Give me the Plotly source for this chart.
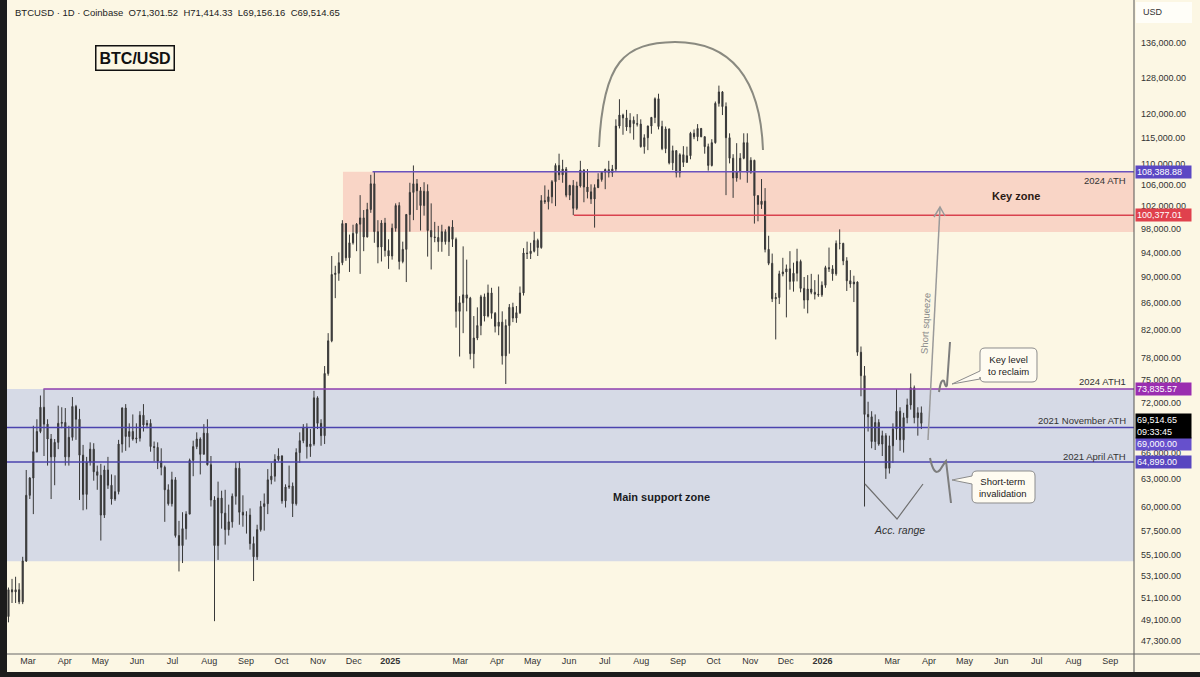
import math
import pandas as pd
import plotly.graph_objects as go

# ---------------- DATA (3-day candles, thousands of USD) ----------------
start_date = "2024-02-12"
period_days = 3

opens = [49.4,51.8,51.6,51.8,50.7,54.5,61.2,63.1,66.1,68.5,
         71.5,69.4,67.6,65.5,67.2,69.5,69.6,65.5,67.8,71.6,
         70.0,65.7,61.3,64.9,66.4,63.8,63.4,59.1,64.0,62.3,
         60.8,61.6,67.0,71.4,67.9,68.5,67.6,67.7,70.5,69.3,
         69.5,66.7,66.6,65.0,64.3,61.8,60.3,62.9,57.0,56.0,
         57.7,59.2,65.1,66.7,67.6,65.8,68.3,64.6,60.7,56.0,
         60.9,59.3,57.6,58.4,61.1,64.2,59.4,59.1,59.1,56.2,
         54.9,57.6,60.0,60.3,62.9,63.3,65.2,65.6,60.6,62.1,
         62.2,60.3,66.0,67.4,69.0,66.7,67.0,72.7,69.5,68.0,
         75.9,80.4,90.4,90.6,92.3,98.9,93.1,95.6,97.2,98.8,
         99.9,96.6,101.4,106.1,97.5,94.9,99.0,94.3,93.4,98.1,
         102.1,92.5,94.5,100.5,104.5,106.1,104.8,102.1,104.7,97.7,
         96.6,96.5,95.8,97.5,95.8,98.3,96.2,84.7,86.0,87.2,
         86.7,78.6,80.8,82.6,86.9,84.0,87.5,84.4,82.5,83.1,
         78.3,82.6,85.3,83.7,84.5,87.5,93.9,93.8,94.2,96.0,
         94.8,103.0,102.8,103.7,106.5,109.6,107.8,108.9,104.0,105.8,
         101.6,105.7,108.7,105.5,104.6,103.3,105.4,106.9,108.3,108.8,
         108.2,108.9,117.5,119.8,119.2,117.3,118.7,118.0,117.9,113.3,
         115.1,117.5,119.3,123.3,117.4,112.9,116.9,110.1,112.5,108.2,
         111.7,110.2,111.5,116.0,115.3,117.0,115.3,113.3,109.6,114.1,
         122.3,124.8,121.6,115.1,111.0,107.2,108.4,111.0,114.1,108.3,
         110.6,103.9,102.3,102.9,94.5,92.2,86.6,86.8,90.5,90.8,
         91.3,89.3,90.6,92.5,88.2,86.4,88.1,87.6,87.3,87.2,
         88.7,91.5,91.3,90.5,95.5,95.5,92.6,89.4,88.9,89.2,
         78.8,75.6,70.6,70.3,67.3,69.6,67.0,68.0,64.2,66.8,
         68.8,71.0,67.5,70.2,71.8,74.0,70.2,70.8]

highs = [52.0,52.8,53.0,52.4,54.9,64.0,63.2,69.2,70.0,73.0,
         73.8,70.0,68.2,67.6,71.7,71.5,71.4,69.2,72.8,71.8,
         71.3,66.9,65.5,67.2,67.1,64.5,64.7,64.5,65.5,63.5,
         63.4,67.5,71.5,71.9,69.5,70.6,69.5,71.0,71.9,69.9,
         70.0,67.3,67.2,66.5,64.5,62.4,63.8,63.2,58.5,59.4,
         59.5,65.3,67.4,68.4,67.8,69.4,70.0,65.6,61.1,62.7,
         61.7,61.8,60.2,61.4,64.9,65.0,61.2,59.5,59.8,56.9,
         58.1,60.6,61.4,64.1,64.8,65.8,66.5,65.7,62.4,64.5,
         62.6,66.5,68.4,69.4,69.5,68.8,73.6,72.9,70.0,76.9,
         81.5,93.4,91.8,94.0,99.5,99.0,97.0,98.7,99.0,104.0,
         101.3,102.6,107.8,108.4,99.5,99.5,99.9,96.2,98.9,102.5,
         102.7,95.8,100.6,106.3,109.6,107.0,105.5,106.4,106.0,102.5,
         99.2,98.5,98.7,97.9,98.5,99.5,96.5,87.0,95.0,92.8,
         86.9,84.0,85.3,87.2,87.4,88.8,88.3,84.6,88.5,84.7,
         83.5,85.8,86.0,85.5,88.5,94.7,95.8,95.6,97.5,96.3,
         104.0,105.8,105.0,106.8,110.0,111.9,110.7,109.3,105.9,106.8,
         106.5,110.5,108.9,108.9,106.0,106.0,108.1,108.5,109.0,110.5,
         109.7,118.9,123.2,120.1,120.9,120.2,119.5,120.0,118.9,115.8,
         117.6,119.4,123.6,124.4,118.6,117.4,117.0,113.5,112.6,112.0,
         113.4,113.3,116.3,116.8,117.9,117.1,115.4,113.9,114.8,122.7,
         126.2,125.0,122.5,116.0,111.8,114.0,112.0,116.0,116.0,111.2,
         110.7,104.0,107.0,105.3,96.8,93.8,87.5,91.0,93.1,92.0,
         94.2,92.3,94.6,92.8,90.0,90.3,90.5,89.5,90.4,89.3,
         91.8,94.8,91.9,96.0,97.9,95.6,93.2,91.1,90.2,89.3,
         79.6,76.9,72.2,71.0,70.6,70.0,68.6,68.3,68.0,69.5,
         73.8,71.5,70.8,72.6,75.9,74.3,71.5,71.6]

lows = [48.9,50.6,50.6,50.5,50.5,54.4,60.8,59.2,66.0,68.3,
        65.6,64.5,60.8,62.3,66.4,68.9,64.5,64.5,67.4,67.5,
        60.7,59.6,59.7,64.5,62.8,61.8,56.5,58.8,61.9,60.2,
        60.6,61.3,66.0,66.2,66.6,67.4,67.1,67.3,68.5,68.9,
        66.1,65.0,64.1,63.4,58.4,60.1,60.0,56.8,53.5,54.3,
        56.6,59.2,63.3,66.4,63.5,65.8,64.5,60.0,49.0,54.6,
        57.7,56.1,57.0,57.8,60.2,58.1,57.9,57.2,55.6,52.6,
        54.6,57.4,57.5,59.2,62.4,62.7,65.0,60.3,59.9,61.9,
        58.9,60.1,64.8,67.1,65.3,65.5,66.8,68.8,66.8,67.0,
        75.6,80.2,86.7,89.4,91.9,92.6,90.8,95.3,94.2,90.5,
        94.2,96.5,100.8,95.6,92.2,92.5,93.3,91.3,92.8,97.5,
        91.2,92.2,89.2,97.5,99.5,101.3,97.7,100.3,93.3,91.2,
        95.7,94.1,94.1,95.3,93.4,94.9,82.3,78.2,81.5,84.7,
        77.8,76.6,80.5,81.2,83.2,83.8,83.6,81.6,81.2,77.1,
        74.5,78.6,83.1,83.0,84.3,87.1,92.9,92.9,94.0,93.4,
        94.6,102.4,101.4,102.5,102.0,106.8,106.3,103.6,103.1,100.4,
        101.3,105.4,102.7,103.4,102.4,98.2,105.3,106.5,105.1,107.3,
        107.4,108.4,117.0,115.7,116.5,116.0,114.7,117.4,113.1,111.9,
        112.6,115.9,118.1,116.8,112.6,112.0,109.8,108.7,107.3,107.3,
        109.3,110.1,110.8,114.8,114.4,115.2,111.9,108.6,109.4,113.9,
        121.6,119.8,104.0,110.0,103.5,106.5,106.9,110.8,106.3,108.0,
        98.9,99.3,101.5,94.0,91.9,86.1,80.6,85.8,90.1,83.8,
        88.0,87.7,89.3,87.6,85.1,84.4,87.3,86.5,86.9,86.9,
        88.3,90.8,89.4,90.2,94.5,91.9,87.8,88.3,86.1,78.3,
        72.9,60.0,68.5,66.5,66.3,66.8,65.6,63.0,63.6,64.8,
        67.5,66.2,66.0,69.5,71.2,69.5,68.0,68.8]

closes = [51.8,51.6,51.8,50.7,54.5,61.2,63.1,66.1,68.5,71.5,
          69.4,67.6,65.5,67.2,69.5,69.6,65.5,67.8,71.6,70.0,
          65.7,61.3,64.9,66.4,63.8,63.4,59.1,64.0,62.3,60.8,
          61.6,67.0,71.4,67.9,68.5,67.6,67.7,70.5,69.3,69.5,
          66.7,66.6,65.0,64.3,61.8,60.3,62.9,57.0,56.0,57.7,
          59.2,65.1,66.7,67.6,65.8,68.3,64.6,60.7,56.0,60.9,
          59.3,57.6,58.4,61.1,64.2,59.4,59.1,59.1,56.2,54.9,
          57.6,60.0,60.3,62.9,63.3,65.2,65.6,60.6,62.1,62.2,
          60.3,66.0,67.4,69.0,66.7,67.0,72.7,69.5,68.0,75.9,
          80.4,90.4,90.6,92.3,98.9,93.1,95.6,97.2,98.8,99.9,
          96.6,101.4,106.1,97.5,94.9,99.0,94.3,93.4,98.1,102.1,
          92.5,94.5,100.5,104.5,106.1,104.8,102.1,104.7,97.7,96.6,
          96.5,95.8,97.5,95.8,98.3,96.2,84.7,86.0,87.2,86.7,
          78.6,80.8,82.6,86.9,84.0,87.5,84.4,82.5,83.1,78.3,
          82.6,85.3,83.7,84.5,87.5,93.9,93.8,94.2,96.0,94.8,
          103.0,102.8,103.7,106.5,109.6,107.8,108.9,104.0,105.8,101.6,
          105.7,108.7,105.5,104.6,103.3,105.4,106.9,108.3,108.8,108.2,
          108.9,117.5,119.8,119.2,117.3,118.7,118.0,117.9,113.3,115.1,
          117.5,119.3,123.3,117.4,112.9,116.9,110.1,112.5,108.2,111.7,
          110.2,111.5,116.0,115.3,117.0,115.3,113.3,109.6,114.1,122.3,
          124.8,121.6,115.1,111.0,107.2,108.4,111.0,114.1,108.3,110.6,
          103.9,102.3,102.9,94.5,92.2,86.6,86.8,90.5,90.8,91.3,
          89.3,90.6,92.5,88.2,86.4,88.1,87.6,87.3,87.2,88.7,
          91.5,91.3,90.5,95.5,95.5,92.6,89.4,88.9,89.2,78.8,
          75.6,70.6,70.3,67.3,69.6,67.0,68.0,64.2,66.8,68.8,
          71.0,67.5,70.2,71.8,74.0,70.2,70.8,69.51]

# key levels (USD) and where they start
level_2024_ath = 108388.88
level_2024_ath_start = "2024-12-17"
level_red = 100377.01
level_red_start = "2025-06-05"
level_2024_ath1 = 73835.57
level_2024_ath1_start = "2024-03-14"
level_2021_nov = 69000.00
level_2021_apr = 64899.00
key_zone = (97460, 108388.88)
key_zone_start = "2024-11-22"
support_zone = (54470, 73835.57)
last_price = 69514.65

x_tick_dates = ["2024-03-01","2024-04-01","2024-05-01","2024-06-01","2024-07-01","2024-08-01",
                "2024-09-01","2024-10-01","2024-11-01","2024-12-01","2025-01-01","2025-03-01",
                "2025-04-01","2025-05-01","2025-06-01","2025-07-01","2025-08-01","2025-09-01",
                "2025-10-01","2025-11-01","2025-12-01","2026-01-01","2026-03-01","2026-04-01",
                "2026-05-01","2026-06-01","2026-07-01","2026-08-01","2026-09-01"]
x_tick_text = ["Mar","Apr","May","Jun","Jul","Aug","Sep","Oct","Nov","Dec","<b>2025</b>","Mar",
               "Apr","May","Jun","Jul","Aug","Sep","Oct","Nov","Dec","<b>2026</b>","Mar","Apr",
               "May","Jun","Jul","Aug","Sep"]
y_tick_vals = [136000,128000,120000,115000,110000,106000,102000,98000,94000,90000,86000,82000,
               78000,75000,72000,66000,63000,60000,57500,55100,53100,51100,49100,47300]

# ---------------- LAYOUT GEOMETRY ----------------
W, H = 1200, 677
PL, PR, PT, PB = 7, 1134, 0, 654
Y_LO, Y_HI = 46240, 146800
X_LO, X_HI = "2024-02-12 06:00", "2026-09-21 02:00"
FONT = "Liberation Sans, Arial, sans-serif"
BG = "#FCF7E4"
CANDLE = "#383838"

def px(x):
    return (x - PL) / (PR - PL)

def py(y):
    return 1 - (y - PT) / (PB - PT)

def pp(price):
    lo, hi = math.log10(Y_LO), math.log10(Y_HI)
    return (math.log10(price) - lo) / (hi - lo)

def path(cmds):
    out = []
    for c in cmds:
        op, vals = c[0], c[1:]
        pts = []
        for i in range(0, len(vals), 2):
            pts.append(f"{px(vals[i]):.5f},{py(vals[i+1]):.5f}")
        out.append(op + " " + " ".join(pts))
    return " ".join(out)

k = 1000.0
dates = [pd.Timestamp(start_date) + pd.Timedelta(hours=24 * period_days * i + 36) for i in range(len(closes))]

fig = go.Figure()
fig.add_trace(go.Candlestick(
    x=dates,
    open=[v * k for v in opens], high=[v * k for v in highs],
    low=[v * k for v in lows], close=[v * k for v in closes],
    increasing=dict(line=dict(color=CANDLE, width=1), fillcolor=CANDLE),
    decreasing=dict(line=dict(color=CANDLE, width=1), fillcolor=CANDLE),
    whiskerwidth=0, showlegend=False, hoverinfo="skip",
))

shapes = []
# zones
shapes.append(dict(type="rect", xref="paper", yref="paper", x0=0, x1=1,
                   y0=pp(support_zone[0]), y1=pp(support_zone[1]),
                   fillcolor="#D6DAE6", line=dict(width=0), layer="below"))
shapes.append(dict(type="rect", xref="x", yref="paper", x0=key_zone_start, x1=X_HI,
                   y0=pp(key_zone[0]), y1=pp(key_zone[1]),
                   fillcolor="#F9D5C6", line=dict(width=0), layer="below"))
# level lines
def hline(level, x0, color, ref="x"):
    return dict(type="line", xref=ref, yref="paper", x0=x0, x1=(X_HI if ref == "x" else 1),
                y0=pp(level), y1=pp(level), line=dict(color=color, width=1.5), layer="above")
shapes.append(hline(level_2024_ath, level_2024_ath_start, "#6A52BE"))
shapes.append(hline(level_red, level_red_start, "#D9424E"))
shapes.append(hline(level_2024_ath1, level_2024_ath1_start, "#8F3FAF"))
shapes.append(hline(level_2021_nov, 0, "#4B43AE", ref="paper"))
shapes.append(hline(level_2021_apr, 0, "#4B43AE", ref="paper"))

# hand drawings
gray = "#7d7d7d"
shapes.append(dict(type="path", xref="paper", yref="paper", layer="above",
                   path=path([("M", 599, 147), ("C", 603, 60, 625, 43, 675, 42), ("C", 725, 42, 760, 70, 763, 150)]),
                   line=dict(color="#8a8a80", width=2)))
shapes.append(dict(type="path", xref="paper", yref="paper", layer="above",
                   path=path([("M", 865, 484), ("L", 897, 519), ("L", 923, 484)]),
                   line=dict(color="#6f6f6f", width=1.2)))
shapes.append(dict(type="path", xref="paper", yref="paper", layer="above",
                   path=path([("M", 928, 440), ("L", 940, 208)]),
                   line=dict(color="#9a9a9a", width=1.5)))
shapes.append(dict(type="path", xref="paper", yref="paper", layer="above",
                   path=path([("M", 934, 217), ("L", 940, 207), ("L", 945, 216)]),
                   line=dict(color="#9a9a9a", width=1.5)))
shapes.append(dict(type="path", xref="paper", yref="paper", layer="above",
                   path=path([("M", 939, 392), ("Q", 941, 378, 944, 381), ("Q", 946, 389, 947, 385), ("L", 950, 342)]),
                   line=dict(color=gray, width=2)))
shapes.append(dict(type="path", xref="paper", yref="paper", layer="above",
                   path=path([("M", 930, 458), ("Q", 934, 477, 940, 470), ("Q", 945, 462, 946, 461), ("L", 951, 503)]),
                   line=dict(color=gray, width=2)))

def callout(x0, y0, x1, y1, tip, a0, a1, r=5):
    return path([("M", x0 + r, y0), ("L", x1 - r, y0), ("Q", x1, y0, x1, y0 + r),
                 ("L", x1, y1 - r), ("Q", x1, y1, x1 - r, y1), ("L", x0 + r, y1),
                 ("Q", x0, y1, x0, y1 - r), ("L", x0, a1), ("L", tip[0], tip[1]),
                 ("L", x0, a0), ("L", x0, y0 + r), ("Q", x0, y0, x0 + r, y0)]) + " Z"

shapes.append(dict(type="path", xref="paper", yref="paper", layer="above",
                   path=callout(980, 348, 1037, 382, (952, 384), 371, 379),
                   fillcolor="#FEFBF1", line=dict(color="#8c8c8c", width=1)))
shapes.append(dict(type="path", xref="paper", yref="paper", layer="above",
                   path=callout(972, 471, 1035, 503, (952, 480), 476, 484),
                   fillcolor="#FEFBF1", line=dict(color="#8c8c8c", width=1)))

# frame pieces
shapes.append(dict(type="rect", xref="paper", yref="paper", x0=px(0), x1=px(7), y0=py(677), y1=py(0),
                   fillcolor="#1c1c1c", line=dict(width=0), layer="above"))
shapes.append(dict(type="rect", xref="paper", yref="paper", x0=px(0), x1=px(1200), y0=py(677), y1=py(672),
                   fillcolor="#1c1c1c", line=dict(width=0), layer="above"))
shapes.append(dict(type="line", xref="paper", yref="paper", x0=px(1134), x1=px(1134), y0=py(672), y1=py(0),
                   line=dict(color="#555555", width=1), layer="above"))
shapes.append(dict(type="line", xref="paper", yref="paper", x0=px(7), x1=px(1200), y0=py(654), y1=py(654),
                   line=dict(color="#666666", width=1), layer="above"))
shapes.append(dict(type="rect", xref="paper", yref="paper", x0=px(1136), x1=px(1192), y0=py(23), y1=py(2),
                   fillcolor="#FFFEF8", line=dict(width=0), layer="above"))

ann = []
def text(x, y, t, size=9.5, color="#222", xanchor="center", **kw):
    ann.append(dict(xref="paper", yref="paper", x=px(x), y=py(y), text=t, showarrow=False,
                    xanchor=xanchor, yanchor="middle", font=dict(family=FONT, size=size, color=color), **kw))

nb = "\u00a0\u00a0"
text(13, 12, "BTCUSD · 1D · Coinbase" + nb + "O71,301.52" + nb + "H71,414.33" + nb + "L69,156.16" + nb + "C69,514.65",
     size=9.5, color="#222", xanchor="left")
text(135, 58.5, "<b>BTC/USD</b>", size=16, color="#111", bordercolor="#111", borderwidth=1.5, borderpad=3,
     bgcolor=BG)
text(1153, 12, "USD", size=9, color="#333")
text(1016, 196, "<b>Key zone</b>", size=11, color="#2a1a14")
text(661, 497, "<b>Main support zone</b>", size=11, color="#1a1a22")
text(899, 530, "<i>Acc. range</i>", size=10.5, color="#333")
text(1008, 365, "Key level<br>to reclaim", size=9.5, color="#222")
text(1003, 487, "Short-term<br>invalidation", size=9.5, color="#222")
text(925, 324, "Short squeeze", size=9.5, color="#8a8a8a", textangle=-87)

def line_label(level, t, shift):
    ann.append(dict(xref="paper", yref="paper", x=px(1128), y=pp(level), text=t, showarrow=False,
                    xanchor="right", yanchor="middle", yshift=shift,
                    font=dict(family=FONT, size=9.5, color="#333")))
line_label(level_2024_ath, "2024 ATH", -9)
line_label(level_2024_ath1, "2024 ATH1", 8)
line_label(level_2021_nov, "2021 November ATH", 7)
line_label(level_2021_apr, "2021 April ATH", 6)

def price_tag(level, t, color, shift=0):
    ann.append(dict(xref="paper", yref="paper", x=1, y=pp(level), text=t, showarrow=False,
                    xanchor="left", yanchor="middle", xshift=1, yshift=shift, bgcolor=color,
                    borderpad=1, width=53, align="left",
                    font=dict(family=FONT, size=9, color="#ffffff")))
price_tag(level_2024_ath, "108,388.88", "#5B47C4")
price_tag(level_red, "100,377.01", "#E0414D")
price_tag(level_2024_ath1, "73,835.57", "#9A2DB0")
price_tag(level_2021_nov, "69,000.00", "#6650CC", shift=-17)
price_tag(level_2021_apr, "64,899.00", "#5846C0")
ann.append(dict(xref="paper", yref="paper", x=1, y=py(426), text="69,514.65<br>09:33:45", showarrow=False,
                xanchor="left", yanchor="middle", xshift=1, bgcolor="#000000", borderpad=1, width=53,
                align="left", font=dict(family=FONT, size=9, color="#ffffff")))

fig.update_layout(
    width=W, height=H,
    margin=dict(l=PL, r=W - PR, t=PT, b=H - PB),
    paper_bgcolor=BG, plot_bgcolor=BG,
    font=dict(family=FONT, size=9, color="#333"),
    shapes=shapes, annotations=ann, showlegend=False,
    boxgap=0.55,
    xaxis=dict(type="date", range=[X_LO, X_HI], tickvals=x_tick_dates, ticktext=x_tick_text,
               showgrid=False, zeroline=False, showline=False, ticks="",
               tickfont=dict(family=FONT, size=9, color="#333"), rangeslider=dict(visible=False),
               fixedrange=True),
    yaxis=dict(type="log", range=[math.log10(Y_LO), math.log10(Y_HI)], side="right",
               tickvals=y_tick_vals, ticktext=[f"{v:,.2f}" for v in y_tick_vals],
               showgrid=False, zeroline=False, showline=False, ticks="", ticklabelstandoff=6,
               tickfont=dict(family=FONT, size=9, color="#333"), fixedrange=True),
)

fig.write_html("out.html", config={"displayModeBar": False},
               post_script="document.body.style.margin='0px';document.body.style.overflow='hidden';")
